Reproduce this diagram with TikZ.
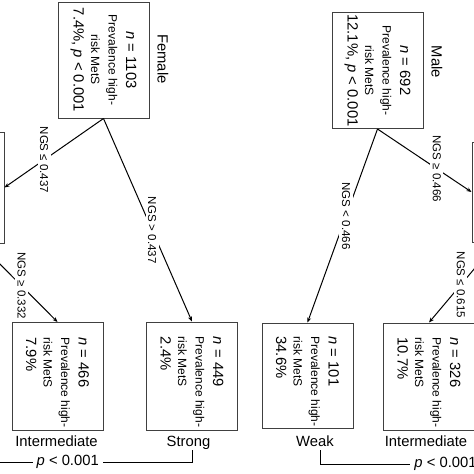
\documentclass[tikz,border=0pt]{standalone}
\usepackage{fontspec}
\setmainfont{Liberation Sans}
\usetikzlibrary{arrows.meta}
\newcommand{\prevfont}{\fontsize{12}{17.5}\selectfont}
\newcommand{\leafind}{\hspace*{12pt}}
\begin{document}
\begin{tikzpicture}[x=1pt,y=-1pt,
box/.style={draw=black!75,line width=1pt,rotate=-90,inner sep=0pt,minimum height=91pt,font=\fontsize{14.8}{17.5}\selectfont},
root/.style={box,align=center,minimum width=116pt},
leaf/.style={box,align=left,minimum width=108pt},
edge/.style={draw=black,line width=1pt,-{Stealth[length=5pt,width=4pt]}},
ngs/.style={fill=white,rotate=-90,inner sep=2.5pt,font=\fontsize{11.5}{13}\selectfont},
sex/.style={rotate=-90,font=\fontsize{14.8}{17.5}\selectfont},
group/.style={anchor=base,inner sep=0pt,font=\fontsize{14.8}{17.5}\selectfont},
pval/.style={fill=white,inner xsep=4pt,inner ysep=1pt,font=\fontsize{14.8}{17.5}\selectfont},
bracket/.style={draw=black,line width=1pt}
]
\useasboundingbox (0,0) rectangle (474,474);
\clip (0,0) rectangle (474,474);
% roots
\node[root] (fem) at (103.5,60) {\textit{n} = 1103\\{\prevfont Prevalence high-}\\{\prevfont risk MetS}\\7.4\%, \textit{p} < 0.001};
\node[sex] (femlab) at (163,59) {Female};
\node[root] (male) at (377.5,70.5) {\textit{n} = 692\\{\prevfont Prevalence high-}\\{\prevfont risk MetS}\\12.1\%, \textit{p} < 0.001};
\node[sex] (malelab) at (437,62) {Male};
% inner nodes, cut by the frame
\node[box,minimum width=111pt,minimum height=49pt] (lin) at (-20.5,187.5) {};
\node[box,minimum width=100pt,minimum height=49pt] (rin) at (496.5,192) {};
% leaves
\node[leaf] (lint) at (57.5,376.5) {\leafind\textit{n} = 466\\\leafind{\prevfont Prevalence high-}\\\leafind{\prevfont risk MetS}\\\leafind 7.9\%};
\node[leaf] (strong) at (192,376) {\leafind\textit{n} = 449\\\leafind{\prevfont Prevalence high-}\\\leafind{\prevfont risk MetS}\\\leafind 2.4\%};
\node[leaf,minimum width=105pt] (weak) at (307.5,375.5) {\leafind\textit{n} = 101\\\leafind{\prevfont Prevalence high-}\\\leafind{\prevfont risk MetS}\\\leafind 34.6\%};
\node[leaf,minimum width=107pt] (rint) at (429,376.5) {\leafind\textit{n} = 326\\\leafind{\prevfont Prevalence high-}\\\leafind{\prevfont risk MetS}\\\leafind 10.7\%};
\node[group] (lintlab) at (56.5,446) {Intermediate};
\node[group] (stronglab) at (188.5,446) {Strong};
\node[group] (weaklab) at (315,446) {Weak};
\node[group] (rintlab) at (426,446) {Intermediate};
% splits
\draw[edge] (fem.east) -- node[ngs,pos=0.6] {NGS ≤ 0.437} (lin.north);
\draw[edge] (fem.east) -- node[ngs,pos=0.55] {NGS > 0.437} (strong.west);
\draw[edge] (male.east) -- node[ngs,pos=0.45] {NGS < 0.466} (weak.west);
\draw[edge] (male.east) -- node[ngs,pos=0.63] {NGS ≥ 0.466} (rin.south);
\draw[edge] (lin.east) -- node[ngs,pos=0.54] {NGS ≥ 0.332} (lint.west);
\draw[edge] (rin.east) -- node[ngs,pos=0.53] {NGS ≤ 0.615} (rint.west);
% comparisons
\coordinate (strongtick) at (192.5,450);
\coordinate (farleft) at (-57,450);
\coordinate (weaktick) at (320,450);
\coordinate (farright) at (571,450);
\draw[bracket] (strongtick) -- ++(0,12) -| node[pos=0.25,pval] {\textit{p} < 0.001} (farleft);
\draw[bracket] (weaktick) -- ++(0,14) -| node[pos=0.25,pval] {\textit{p} < 0.001} (farright);
\end{tikzpicture}
\end{document}
